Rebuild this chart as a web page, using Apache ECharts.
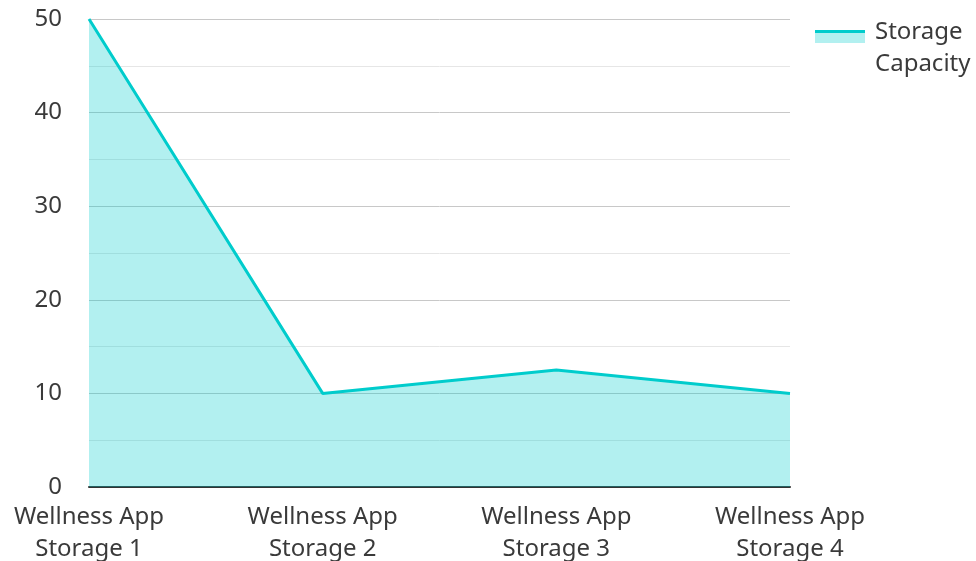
<!DOCTYPE html>
<html>
<head>
<meta charset="utf-8">
<style>
  html, body { margin: 0; padding: 0; background: #fff; }
  #chart { width: 976px; height: 561px; }
</style>
<script src="https://cdn.jsdelivr.net/npm/echarts@6/dist/echarts.min.js"></script>
</head>
<body>
<div id="chart"></div>
<script>
// 数据
const categories = ['Wellness App\nStorage 1', 'Wellness App\nStorage 2', 'Wellness App\nStorage 3', 'Wellness App\nStorage 4'];
const storageCapacity = [50, 10, 12.5, 10];
const seriesName = 'Storage Capacity';

const lineColor = '#00cccc';
const areaColor = 'rgba(0, 204, 204, 0.3)';
const textColor = '#3a3a3a';
const fontFamily = '"Noto Sans", "Open Sans", sans-serif';

const chart = echarts.init(document.getElementById('chart'));

chart.setOption({
    animation: false,
    grid: { left: 89, right: 186, top: 19, bottom: 74, containLabel: false, outerBoundsMode: 'none' },
    xAxis: {
        type: 'category',
        data: categories,
        boundaryGap: false,
        axisLine: { lineStyle: { color: '#333', width: 2 } },
        axisTick: { show: false },
        axisLabel: {
            color: textColor, fontSize: 24, fontFamily: fontFamily,
            lineHeight: 32, margin: 14
        }
    },
    yAxis: {
        type: 'value',
        min: 0, max: 50, interval: 10,
        axisLine: { show: false },
        axisTick: { show: false },
        axisLabel: { color: textColor, fontSize: 24, fontFamily: fontFamily, margin: 27 },
        splitLine: { lineStyle: { color: '#c8c8c8', width: 1 } },
        minorTick: { show: false, splitNumber: 2 },
        minorSplitLine: { show: true, lineStyle: { color: '#e6e6e6', width: 1 } }
    },
    series: [{
        name: seriesName,
        type: 'line',
        data: storageCapacity,
        symbol: 'none',
        lineStyle: { color: lineColor, width: 3 },
        areaStyle: { color: areaColor, opacity: 1 },
        z: 1
    }],
    // 图例：线 + 填充
    graphic: [
        { type: 'rect', left: 815, top: 30, shape: { width: 50, height: 3 }, style: { fill: lineColor } },
        { type: 'rect', left: 815, top: 33, shape: { width: 50, height: 10 }, style: { fill: areaColor } },
        {
            type: 'text', left: 875, top: 16,
            style: {
                text: 'Storage\nCapacity', fill: textColor,
                font: '24px ' + fontFamily, lineHeight: 32
            }
        }
    ]
});
</script>
</body>
</html>
